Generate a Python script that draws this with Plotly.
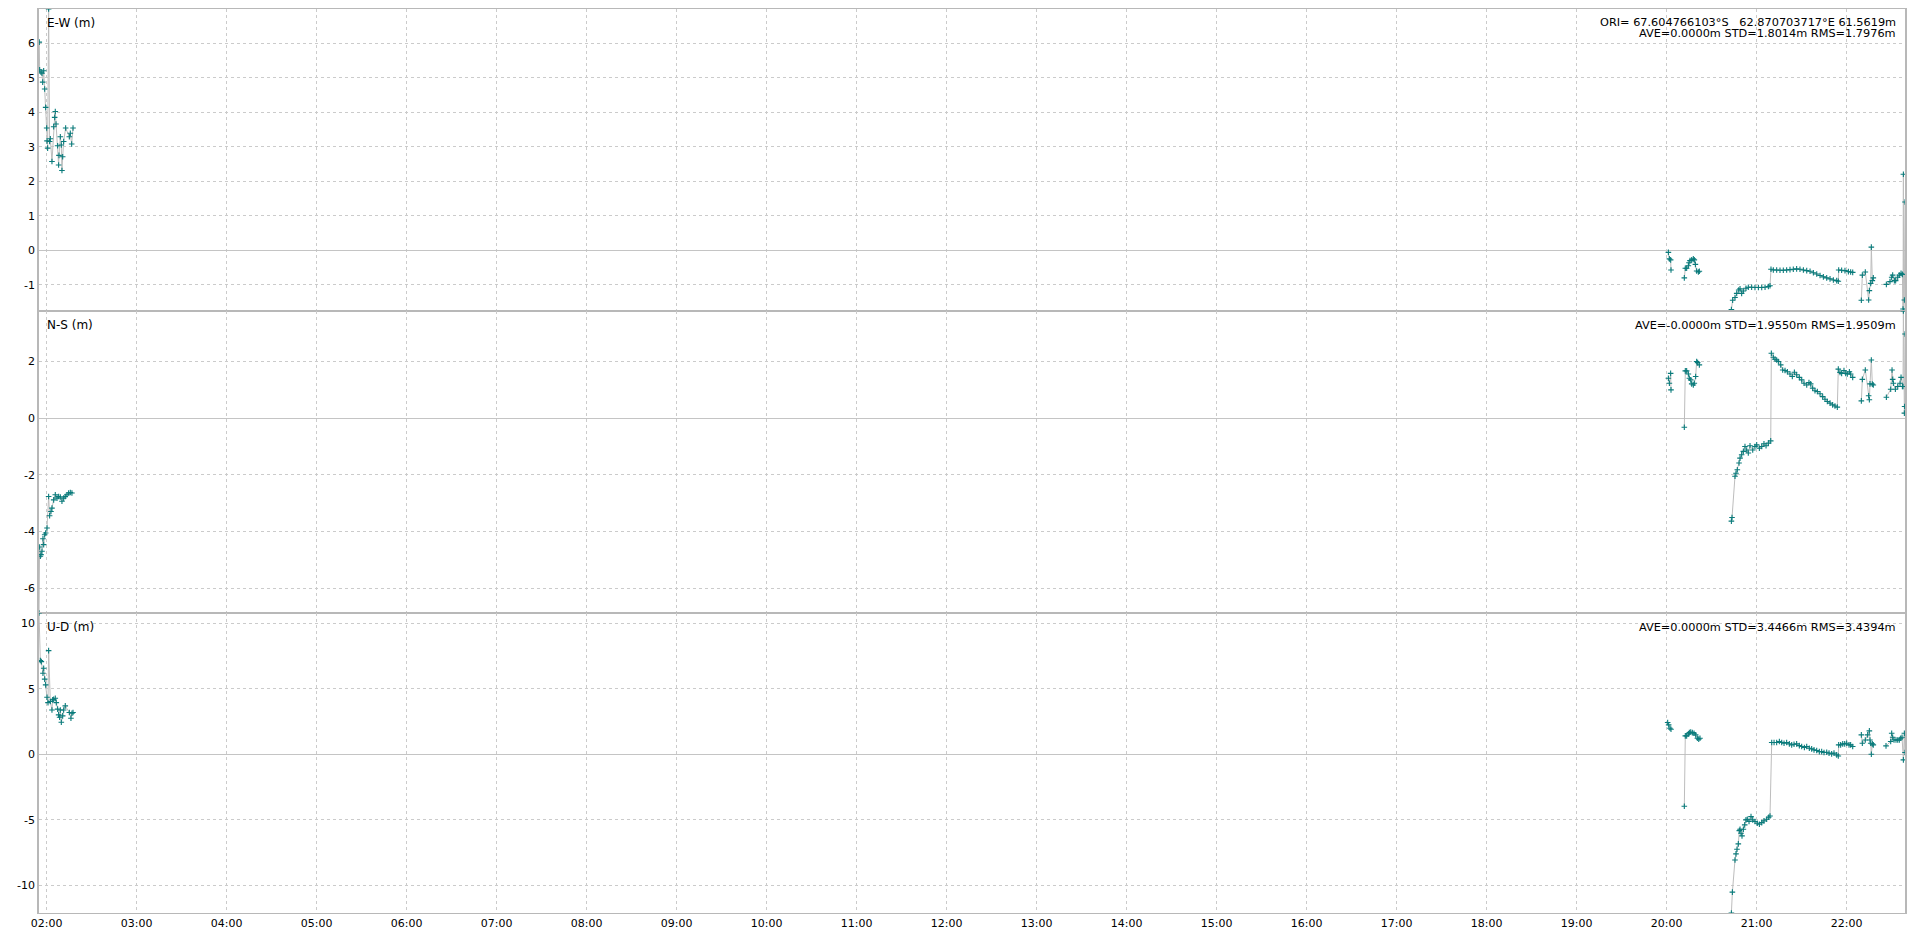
import plotly.graph_objects as go
from datetime import datetime, timedelta

# ---------------- data (time in decimal hours of day, None = data gap) ----------------
ew_time = [1.918, 1.922, 1.937, 1.948, 1.956, 1.967, 1.978, 1.989, 2.000, 2.004, 2.011, 2.022,
           2.033, 2.041, 2.059, 2.078, 2.089, 2.096, 2.104, 2.122, 2.133, 2.137, 2.152, 2.163,
           2.170, 2.178, 2.189, 2.211, 2.252, 2.263, 2.278, 2.293, None,
           20.019, 20.030, 20.044, 20.048, None,
           20.196, 20.207, 20.222, 20.241, 20.248, 20.259, 20.278, 20.296, 20.307, 20.319,
           20.333, 20.352, 20.363, None,
           20.719, 20.733, 20.759, 20.778, 20.800, 20.815, 20.833, 20.852, 20.881, 20.907,
           20.944, 20.981, 21.019, 21.056, 21.093, 21.130, 21.148, 21.159, 21.185, 21.222,
           21.259, 21.296, 21.333, 21.370, 21.407, 21.444, 21.481, 21.519, 21.556, 21.593,
           21.630, 21.667, 21.704, 21.741, 21.778, 21.815, 21.852, 21.889, 21.907, 21.911,
           21.944, 21.981, 22.019, 22.044, 22.067, None,
           22.163, 22.174, 22.207, 22.244, 22.252, 22.267, 22.274, 22.285, 22.296, None,
           22.441, 22.481, 22.500, 22.511, 22.530, 22.544, 22.567, 22.585, 22.604, 22.619,
           22.626, 22.630, 22.633, 22.641, 22.648]
ew_val = [6.03, 5.23, 5.16, 5.13, 4.87, 5.20, 4.67, 4.14, 3.54, 3.17, 2.96, 6.99,
          3.15, 3.23, 2.57, 3.58, 3.85, 4.02, 3.66, 3.03, 2.47, 2.75, 3.29, 3.05,
          2.31, 2.71, 3.15, 3.54, 3.29, 3.39, 3.08, 3.54, None,
          -0.06, -0.25, -0.28, -0.57, None,
          -0.80, -0.52, -0.52, -0.45, -0.36, -0.30, -0.28, -0.25, -0.28, -0.41,
          -0.60, -0.63, -0.61, None,
          -1.72, -1.45, -1.37, -1.25, -1.15, -1.12, -1.25, -1.18, -1.10, -1.07,
          -1.07, -1.08, -1.08, -1.08, -1.07, -1.05, -1.03, -0.55, -0.57, -0.57,
          -0.58, -0.58, -0.57, -0.56, -0.55, -0.54, -0.55, -0.57, -0.59, -0.61,
          -0.65, -0.69, -0.73, -0.77, -0.80, -0.83, -0.86, -0.88, -0.90, -0.57,
          -0.58, -0.59, -0.62, -0.63, -0.64, None,
          -1.45, -0.72, -0.63, -1.44, -1.17, -0.96, 0.09, -0.88, -0.80, None,
          -0.99, -0.91, -0.78, -0.72, -0.88, -0.88, -0.78, -0.72, -0.67, -0.70,
          -1.70, 2.20, -1.76, -1.44, 1.40]

ns_time = [1.915, 1.922, 1.930, 1.937, 1.948, 1.959, 1.967, 1.978, 1.989, 2.004, 2.022, 2.033,
           2.048, 2.059, 2.078, 2.096, 2.115, 2.133, 2.152, 2.170, 2.189, 2.207, 2.226, 2.244,
           2.263, 2.281, None,
           20.019, 20.030, 20.044, 20.048, None,
           20.196, 20.207, 20.222, 20.241, 20.252, 20.267, 20.278, 20.296, 20.307, 20.322,
           20.333, 20.344, 20.363, None,
           20.719, 20.726, 20.759, 20.770, 20.785, 20.804, 20.815, 20.833, 20.852, 20.870,
           20.889, 20.907, 20.926, 20.956, 20.981, 21.000, 21.030, 21.056, 21.081, 21.104,
           21.130, 21.156, 21.163, 21.185, 21.204, 21.222, 21.241, 21.267, 21.289, 21.315,
           21.341, 21.370, 21.396, 21.419, 21.444, 21.474, 21.500, 21.526, 21.556, 21.581,
           21.600, 21.622, 21.648, 21.674, 21.704, 21.733, 21.759, 21.785, 21.815, 21.844,
           21.870, 21.896, 21.907, 21.926, 21.944, 21.970, 21.989, 22.007, 22.030, 22.044,
           22.067, None,
           22.163, 22.174, 22.207, 22.244, 22.252, 22.259, 22.274, 22.285, 22.296, None,
           22.441, 22.489, 22.504, 22.511, 22.519, 22.541, 22.567, 22.593, 22.604, 22.619,
           22.626, 22.630, 22.641, 22.644, 22.648]
ns_val = [-6.87, -4.54, -4.87, -4.81, -4.69, -4.25, -4.46, -4.11, -4.05, -3.87, -2.76, -3.44,
          -3.29, -3.17, -2.88, -2.70, -2.82, -2.76, -2.78, -2.93, -2.82, -2.76, -2.70, -2.64,
          -2.62, -2.64, None,
          1.41, 1.23, 1.58, 1.00, None,
          -0.32, 1.67, 1.67, 1.56, 1.41, 1.35, 1.21, 1.17, 1.23, 1.47,
          2.00, 1.96, 1.88, None,
          -3.63, -3.50, -2.05, -1.94, -1.82, -1.58, -1.41, -1.29, -1.17, -1.00,
          -1.12, -1.23, -0.97, -1.12, -1.00, -0.94, -1.06, -1.00, -0.90, -0.97,
          -0.88, -0.80, 2.29, 2.15, 2.08, 2.05, 2.00, 1.88, 1.70, 1.68,
          1.64, 1.56, 1.47, 1.62, 1.53, 1.44, 1.35, 1.23, 1.17, 1.26,
          1.21, 1.06, 0.97, 0.94, 0.86, 0.76, 0.67, 0.59, 0.53, 0.47,
          0.43, 0.39, 1.73, 1.61, 1.58, 1.68, 1.58, 1.56, 1.64, 1.56,
          1.44, None,
          0.61, 1.37, 1.70, 0.79, 0.65, 1.21, 2.05, 1.20, 1.17, None,
          0.74, 1.02, 1.70, 1.37, 1.23, 1.02, 1.12, 1.23, 1.44, 1.12,
          1.12, 3.78, 0.18, 0.41, 2.97]

ud_time = [1.915, 1.930, 1.941, 1.959, 1.967, 1.978, 1.989, 2.004, 2.015, 2.022, 2.041, 2.059,
           2.067, 2.078, 2.096, 2.107, 2.122, 2.133, 2.144, 2.152, 2.163, 2.178, 2.189, 2.207,
           2.252, 2.270, 2.281, 2.293, None,
           20.011, 20.022, 20.037, 20.048, None,
           20.196, 20.207, 20.222, 20.241, 20.252, 20.267, 20.285, 20.304, 20.322, 20.341,
           20.356, 20.370, None,
           20.719, 20.730, 20.759, 20.770, 20.781, 20.796, 20.807, 20.815, 20.826, 20.837,
           20.852, 20.867, 20.881, 20.896, 20.915, 20.937, 20.956, 20.981, 21.007, 21.030,
           21.056, 21.081, 21.111, 21.133, 21.148, 21.167, 21.193, 21.222, 21.252, 21.278,
           21.304, 21.333, 21.363, 21.389, 21.415, 21.444, 21.474, 21.500, 21.530, 21.556,
           21.585, 21.611, 21.637, 21.667, 21.696, 21.722, 21.748, 21.778, 21.804, 21.833,
           21.859, 21.889, 21.907, 21.911, 21.933, 21.956, 21.978, 22.000, 22.026, 22.044,
           22.067, None,
           22.163, 22.174, 22.207, 22.233, 22.252, 22.259, 22.267, 22.274, 22.285, 22.296, None,
           22.437, 22.489, 22.500, 22.511, 22.526, 22.548, 22.567, 22.585, 22.600, 22.615,
           22.630, 22.641, 22.648]
ud_val = [10.78, 7.15, 7.07, 6.18, 6.56, 5.73, 5.29, 4.35, 3.94, 7.91, 4.02, 3.38,
          4.15, 4.20, 4.27, 3.94, 3.44, 3.00, 2.82, 3.38, 2.44, 2.93, 3.38, 3.69,
          3.18, 2.75, 3.13, 3.18, None,
          2.42, 2.24, 1.98, 1.91, None,
          -3.97, 1.40, 1.40, 1.55, 1.65, 1.70, 1.65, 1.60, 1.48, 1.22,
          1.15, 1.22, None,
          -12.12, -10.53, -8.07, -7.61, -7.25, -6.84, -5.83, -5.73, -6.03, -6.23,
          -5.73, -5.39, -5.01, -4.96, -5.14, -4.76, -5.01, -5.14, -5.27, -5.34,
          -5.22, -5.09, -4.96, -4.81, -4.71, 0.89, 0.89, 0.89, 0.97, 0.89,
          0.84, 0.89, 0.79, 0.71, 0.76, 0.79, 0.66, 0.59, 0.51, 0.59,
          0.46, 0.41, 0.33, 0.28, 0.20, 0.20, 0.13, 0.15, 0.08, 0.03,
          0.08, -0.05, -0.13, 0.71, 0.71, 0.79, 0.79, 0.84, 0.71, 0.71,
          0.59, None,
          1.48, 0.84, 1.09, 1.48, 1.78, 1.09, 0.84, 0.00, 0.79, 0.71, None,
          0.64, 0.97, 1.60, 1.30, 1.09, 1.09, 1.09, 1.09, 1.22, 1.30,
          -0.43, 1.60, 0.13]

panel_labels = ["E-W (m)", "N-S (m)", "U-D (m)"]
panel_stats = ["AVE=0.0000m STD=1.8014m RMS=1.7976m",
               "AVE=-0.0000m STD=1.9550m RMS=1.9509m",
               "AVE=0.0000m STD=3.4466m RMS=3.4394m"]
origin_text = "ORI= 67.604766103°S   62.870703717°E 61.5619m"
ytick_sets = [[-1, 0, 1, 2, 3, 4, 5, 6], [-6, -4, -2, 0, 2], [-10, -5, 0, 5, 10]]
xtick_hours = list(range(2, 23))

# ---------------- figure ----------------
W, H = 1918, 935
L, R, T, B = 38.7, 12.9, 9, 22
PW, PH = W - L - R, H - T - B
base = datetime(2020, 1, 1)


def to_dt(hours):
    return [None if h is None else base + timedelta(hours=h) for h in hours]


def px_x(px):
    return (px - L) / PW


def px_y(py):
    return (H - B - py) / PH


panel_px = [(9, 311), (311, 613), (613, 913)]
series = [(ew_time, ew_val), (ns_time, ns_val), (ud_time, ud_val)]

all_t = [h for s in series for h in s[0] if h is not None]
x_range = [base + timedelta(hours=min(all_t)), base + timedelta(hours=max(all_t))]

FONT = "DejaVu Sans"
TEAL = "#0a7b7b"
GRID = "#cbcbcb"
BORDER = "#b8b8b8"
TICK_SIZE = 11
STAT_SIZE = 11.3
LABEL_SIZE = 12

fig = go.Figure()
layout = dict(
    width=W, height=H, autosize=False,
    margin=dict(l=L, r=R, t=T, b=B, pad=0, autoexpand=False),
    paper_bgcolor="white", plot_bgcolor="white",
    showlegend=False,
    font=dict(family=FONT, size=TICK_SIZE, color="#000000"),
)
annotations = []
for i, ((tt, vv), (top, bot)) in enumerate(zip(series, panel_px)):
    n = "" if i == 0 else str(i + 1)
    fig.add_trace(go.Scatter(
        x=to_dt(tt), y=vv, mode="lines+markers",
        xaxis="x" + n, yaxis="y" + n,
        line=dict(color="#bdbdbd", width=1),
        marker=dict(symbol="cross-thin", size=4, line=dict(width=1.1, color=TEAL), color=TEAL),
        connectgaps=False, hoverinfo="x+y",
    ))
    vals = [v for v in vv if v is not None]
    layout["xaxis" + n] = dict(
        domain=[0, 1], anchor="y" + n, type="date", range=x_range,
        tickvals=[base + timedelta(hours=h) for h in xtick_hours],
        ticktext=["%02d:00" % h for h in xtick_hours],
        showticklabels=(i == 2), ticks="", automargin=False,
        showgrid=True, gridcolor=GRID, griddash="3px,3px", gridwidth=1,
        showline=True, mirror=True, linecolor=BORDER, linewidth=1,
        zeroline=False, tickfont=dict(family=FONT, size=TICK_SIZE, color="#000"),
    )
    layout["yaxis" + n] = dict(
        domain=[px_y(bot), px_y(top)], anchor="x" + n,
        range=[min(vals), max(vals)], automargin=False,
        tickvals=ytick_sets[i], ticktext=[str(v) for v in ytick_sets[i]],
        ticks="", showgrid=True, gridcolor=GRID, griddash="3px,3px", gridwidth=1,
        zeroline=True, zerolinecolor="#c4c4c4", zerolinewidth=1,
        showline=True, mirror=True, linecolor=BORDER, linewidth=1.5,
        tickfont=dict(family=FONT, size=TICK_SIZE, color="#000"),
    )
    annotations.append(dict(
        text=panel_labels[i], xref="paper", yref="paper",
        x=px_x(45), y=px_y(top + 14), xanchor="left", yanchor="middle",
        showarrow=False, font=dict(family=FONT, size=LABEL_SIZE, color="#000"),
    ))
    stat_y = top + 14 + (11 if i == 0 else 0)
    annotations.append(dict(
        text=panel_stats[i], xref="paper", yref="paper",
        x=px_x(1898), y=px_y(stat_y), xanchor="right", yanchor="middle",
        showarrow=False, font=dict(family=FONT, size=STAT_SIZE, color="#000"),
    ))
annotations.append(dict(
    text=origin_text, xref="paper", yref="paper",
    x=px_x(1898), y=px_y(panel_px[0][0] + 14), xanchor="right", yanchor="middle",
    showarrow=False, font=dict(family=FONT, size=STAT_SIZE, color="#000"),
))
layout["annotations"] = annotations
fig.update_layout(**layout)

fig.write_html("out.html", config={"displayModeBar": False},
               post_script="document.body.style.margin='0';document.body.style.overflow='hidden';")
